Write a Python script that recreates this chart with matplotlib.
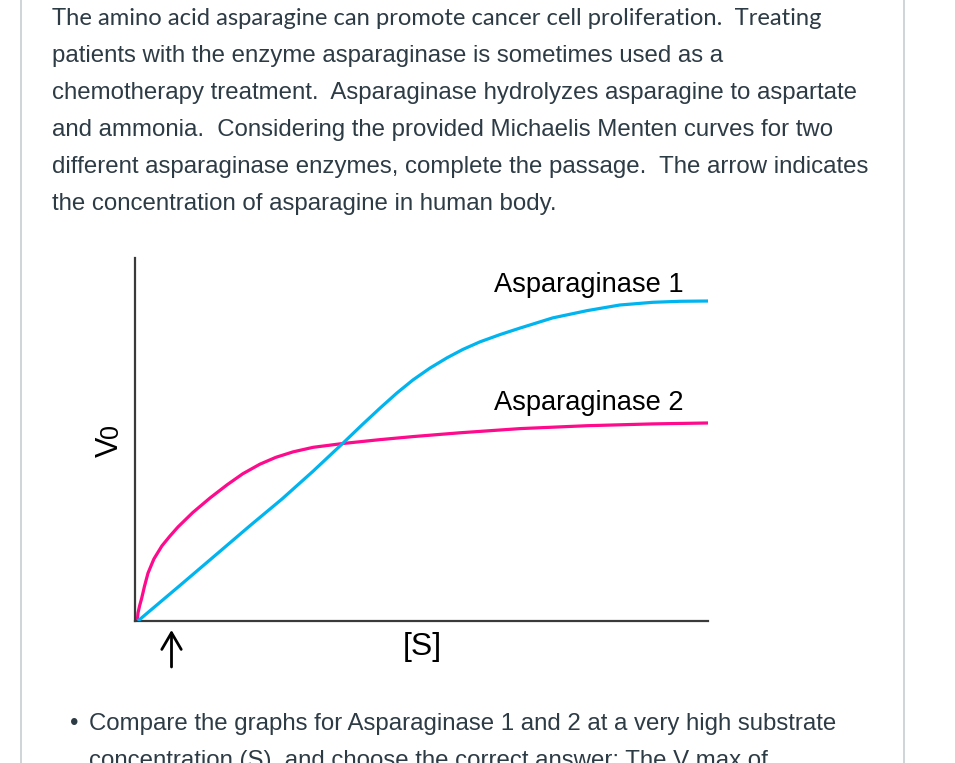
import matplotlib
matplotlib.use("Agg")
import matplotlib.pyplot as plt

# ---------------- data ----------------
# substrate concentration [S] (arbitrary units 0-100) and velocity V0 (0-100)
s_enz1 = [0.5, 7.85, 14.8, 20.1, 25.65, 31.1, 36.3, 39.6, 42.8, 45.7, 48.5, 51.5, 54.45, 57.2, 60.2,
          63.7, 67.2, 72.9, 78.9, 84.6, 90.4, 95.1, 100.0]
v_enz1 = [0.0, 9.8, 19.15, 26.3, 33.6, 41.3, 49.0, 54.0, 58.7, 62.8, 66.4, 69.7, 72.5, 74.8, 76.9,
          78.9, 80.7, 83.5, 85.5, 87.05, 87.8, 88.07, 88.15]

s_enz2 = [0.4, 0.52, 0.79, 1.17, 1.66, 2.27, 3.3, 4.7, 6.1, 7.5, 10.1, 13.1, 16.1, 18.8, 21.8, 24.6,
          27.6, 31.1, 36.3, 42.8, 48.5, 56.7, 67.2, 78.9, 90.4, 100.0]
v_enz2 = [0.0, 2.2, 4.1, 6.3, 9.6, 13.2, 17.1, 20.7, 23.4, 25.9, 29.9, 33.9, 37.55, 40.55, 43.2, 45.1,
          46.6, 47.85, 48.9, 49.97, 50.8, 51.85, 53.0, 53.8, 54.3, 54.55]

series_labels = ["Asparaginase 1", "Asparaginase 2"]
x_label = "[S]"
y_label_main = "V"
y_label_sub = "0"

paragraph = [
    "The amino acid asparagine can promote cancer cell proliferation.  Treating",
    "patients with the enzyme asparaginase is sometimes used as a",
    "chemotherapy treatment.  Asparaginase hydrolyzes asparagine to aspartate",
    "and ammonia.  Considering the provided Michaelis Menten curves for two",
    "different asparaginase enzymes, complete the passage.  The arrow indicates",
    "the concentration of asparagine in human body.",
]
bullet_lines = [
    "Compare the graphs for Asparaginase 1 and 2 at a very high substrate",
    "concentration (S), and choose the correct answer: The V max of",
]

# ---------------- styling ----------------
W, H = 955, 763
DPI = 100
TEXT_COLOR = "#2d3b45"
BLUE = "#00b4ef"
PINK = "#ff0a8c"
ARIAL = ["Liberation Sans", "DejaVu Sans"]
NARROW = ["Liberation Sans Narrow", "Liberation Sans", "DejaVu Sans"]

fig = plt.figure(figsize=(W / DPI, H / DPI), dpi=DPI)
fig.patch.set_facecolor("white")

# page overlay in pixel coordinates
page = fig.add_axes([0, 0, 1, 1])
page.set_xlim(0, W)
page.set_ylim(H, 0)
page.axis("off")

# page side borders
page.plot([20.5, 20.5], [0, H], color="#c7cdd1", lw=1.2)
page.plot([903.5, 903.5], [0, H], color="#c7cdd1", lw=1.2)

# paragraph text
baselines = [25, 62, 99, 136, 173, 210]
for i, (line, yb) in enumerate(zip(paragraph, baselines)):
    fam = ["Lato", "DejaVu Sans"] if i == 0 else ARIAL
    page.text(52, yb, line, fontsize=17.15 if i == 0 else 17.25, family=fam,
              color=TEXT_COLOR, ha="left", va="baseline")

# bullet text (second line runs off the bottom of the page, as in the screenshot)
page.text(70, 730, "\u2022", fontsize=17.25, family=ARIAL,
          color=TEXT_COLOR, ha="left", va="baseline")
page.text(89, 730, bullet_lines[0], fontsize=17.25, family=ARIAL,
          color=TEXT_COLOR, ha="left", va="baseline")
page.text(89, 767, bullet_lines[1], fontsize=17.25, family=ARIAL,
          color=TEXT_COLOR, ha="left", va="baseline")

# ---------------- chart ----------------
x0, x1 = 135, 708
y_top, y_bot = 258, 621
ax = fig.add_axes([x0 / W, (H - y_bot) / H, (x1 - x0) / W, (y_bot - y_top) / H])
ax.set_facecolor("none")
ax.set_xlim(0, 100)
ax.set_ylim(0, 100)
for side in ["top", "right"]:
    ax.spines[side].set_visible(False)
for side in ["left", "bottom"]:
    ax.spines[side].set_color("#3a3a3a")
    ax.spines[side].set_linewidth(1.6)
ax.set_xticks([])
ax.set_yticks([])

ax.plot(s_enz1, v_enz1, color=BLUE, lw=2.3, solid_capstyle="butt", solid_joinstyle="round", zorder=3)
ax.plot(s_enz2, v_enz2, color=PINK, lw=2.3, solid_capstyle="butt", solid_joinstyle="round", zorder=2)

# curve labels
page.text(494, 292, series_labels[0], fontsize=19.6, family=ARIAL,
          color="black", ha="left", va="baseline")
page.text(494, 410, series_labels[1], fontsize=19.6, family=ARIAL,
          color="black", ha="left", va="baseline")

# axis labels
page.text(422, 647, x_label, fontsize=23, family=NARROW,
          color="black", ha="center", va="center")
page.text(118, 457, y_label_main, fontsize=22, family=NARROW,
          color="black", rotation=90, rotation_mode="anchor", ha="left", va="baseline")
page.text(118, 438, y_label_sub, fontsize=18, family=NARROW,
          color="black", rotation=90, rotation_mode="anchor", ha="left", va="baseline")

# arrow marking physiological [S]
page.annotate("", xy=(171.5, 630), xytext=(171.5, 667),
              arrowprops=dict(arrowstyle="->,head_length=0.6,head_width=0.35",
                              mutation_scale=20, color="black", lw=2.0,
                              shrinkA=0, shrinkB=0))

fig.savefig("out.png", dpi=DPI, facecolor="white")
